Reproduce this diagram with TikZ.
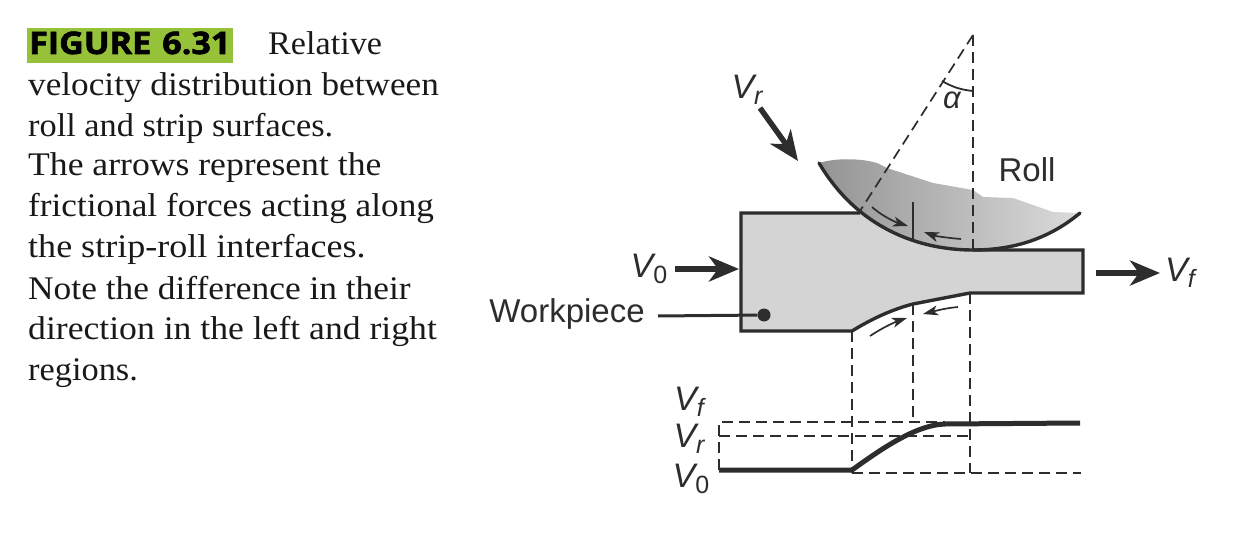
\documentclass[tikz,border=0pt]{standalone}
\usepackage{fontspec}
\usepackage{graphicx}
\usetikzlibrary{arrows.meta}
\setmainfont{Liberation Serif}[FakeStretch=1.067]
\newfontfamily\labelfont{Liberation Sans}
\newfontfamily\headfont{Open Sans}[FakeBold=2,FakeStretch=1.1]
\definecolor{headgreen}{RGB}{150,194,58}
\definecolor{inkdark}{RGB}{45,45,45}
\definecolor{workgray}{RGB}{212,212,212}
\newcommand{\Vsub}[1]{{\labelfont\fontsize{34}{34}\selectfont\itshape V\raisebox{-6pt}{\fontsize{25}{25}\selectfont #1}}}
\newcommand{\Vzero}{{\labelfont\fontsize{34}{34}\selectfont{\itshape V}\raisebox{-6pt}{\fontsize{25}{25}\selectfont\upshape 0}}}
\tikzset{
  capline/.style={anchor=base west,inner sep=0pt,font=\fontsize{33}{33}\selectfont,text=black!90},
  lab/.style={inner sep=0pt,font=\labelfont\fontsize{33}{33}\selectfont,text=inkdark},
  vlab/.style={inner sep=0pt,text=inkdark},
  outline/.style={draw=inkdark,line width=3.4pt,line join=miter},
  guide/.style={draw=inkdark,line width=1.7pt,dash pattern=on 11pt off 6pt},
  bigarrow/.style={draw=inkdark,line width=5.5pt,-{Stealth[length=30pt,width=25pt,inset=9pt]}},
  smallarrow/.style={draw=inkdark,line width=1.7pt,-{Stealth[length=15pt,width=10pt,inset=4pt]}},
  vcurve/.style={draw=inkdark,line width=5pt}
}
\begin{document}
\begin{tikzpicture}[x=1pt,y=-1pt]
\useasboundingbox (0,0) rectangle (1252,545);
% caption
\node[fill=headgreen,minimum width=206pt,minimum height=35pt,inner sep=0pt,anchor=north west] (headbox) at (27,28) {};
\node[anchor=base west,inner sep=0pt,font=\headfont\bfseries\fontsize{31}{31}\selectfont] (head) at (29,54) {FIGURE\hspace{11pt}6.31};
\node[capline] (c0) at (268,55) {\scalebox{.97}[1]{Relative}};
\node[capline] (c1) at (28,96) {velocity distribution between};
\node[capline] (c2) at (28,137) {\scalebox{.975}[1]{roll and strip surfaces.}};
\node[capline] (c3) at (28,176) {\scalebox{1.012}[1]{The arrows represent the}};
\node[capline] (c4) at (28,217) {frictional forces acting along};
\node[capline] (c5) at (28,258) {\scalebox{1.024}[1]{the strip-roll interfaces.}};
\node[capline] (c6) at (28,299) {\scalebox{1.005}[1]{Note the difference in their}};
\node[capline] (c7) at (28,339) {\scalebox{1.012}[1]{direction in the left and right}};
\node[capline] (c8) at (28,380) {\scalebox{.975}[1]{regions.}};
% roll
\shade[left color=black!42,right color=black!14]
  (819,163) .. controls (835,158) and (860,158) .. (877,163)
  -- (887,168) -- (933,183) -- (973,190) -- (983,197) -- (1013,198) -- (1053,212) -- (1080,213)
  .. controls (1050,238) and (1015,250) .. (973,250)
  .. controls (920,250) and (858,229) .. (819,163) -- cycle;
% workpiece
\fill[workgray] (741,213) -- (859.5,213) -- (859.5,210.9) .. controls (894.4,239.7) and (935.9,250) .. (973,250)
  -- (1083,250) -- (1083,293) -- (970,293) -- (913,304)
  .. controls (890,310) and (870,320) .. (852,331) -- (741,331) -- cycle;
\draw[outline] (860,213) -- (741,213) -- (741,331) -- (852,331)
  .. controls (870,320) and (890,310) .. (913,304) -- (970,293) -- (1083,293) -- (1083,250) -- (973,250);
\draw[outline,line cap=round] (819,163) .. controls (858,229) and (920,250) .. (973,250)
  .. controls (1015,250) and (1050,238) .. (1080,213);
% guides
\coordinate (apex) at (973,35);
\coordinate (contactA) at (860,211);
\coordinate (contactB) at (973,250);
\coordinate (lowA) at (852,331);
\coordinate (lowB) at (913,304);
\coordinate (lowC) at (970,293);
\coordinate (graphA) at (852,473);
\coordinate (graphC) at (970,473);
\coordinate (graphEnd) at (1081,473);
\coordinate (neutralTop) at (913,202);
\coordinate (neutralMid) at (913,241);
\coordinate (neutralBot) at (913,422);
\coordinate (fL) at (719,422);
\coordinate (rL) at (719,436);
\coordinate (zL) at (719,470);
\coordinate (fR) at (945,422);
\coordinate (rR) at (970,436);
\draw[guide] (apex) -- (contactB);
\draw[guide] (apex) -- (contactA);
\draw[guide,dash pattern=on 40pt off 0pt] (neutralTop) -- (neutralMid);
\draw[guide] (lowA) -- (graphA);
\draw[guide] (lowB) -- (neutralBot);
\draw[guide] (lowC) -- (graphC);
\draw[guide] (graphA) -- (graphEnd);
\draw[guide] (zL) -- (fL) -- (fR);
\draw[guide] (rL) -- (rR);
% angle
\coordinate (angA) at (942,81);
\coordinate (angB) at (973,91);
\draw[draw=inkdark,line width=1.8pt] (angA) .. controls (952,87) and (962,90) .. (angB);
\node[inner sep=0pt,text=inkdark,font=\labelfont\itshape\fontsize{31}{31}\selectfont] (alpha) at (952,100) {α};
% velocity curve
\coordinate (zR) at (852,470);
\draw[vcurve] (zL) -- (zR) .. controls (880,450) and (915,425) .. (945,424) -- (1080,423);
% friction arrows
\coordinate (a1s) at (872,207); \coordinate (a1e) at (908,226);
\coordinate (a2s) at (961,239); \coordinate (a2e) at (924,232);
\coordinate (a3s) at (870,336); \coordinate (a3e) at (907,318);
\coordinate (a4s) at (958,307); \coordinate (a4e) at (923,314);
\draw[smallarrow] (a1s) .. controls (882,216) and (895,222) .. (a1e);
\draw[smallarrow] (a2s) .. controls (948,238) and (935,236) .. (a2e);
\draw[smallarrow] (a3s) .. controls (882,328) and (895,322) .. (a3e);
\draw[smallarrow] (a4s) .. controls (946,308) and (935,311) .. (a4e);
% labels and large arrows
\node[vlab] (vr) at (747,90) {\Vsub{r}};
\node[vlab] (v0) at (649,269) {\Vzero};
\node[vlab] (vf) at (1180,273) {\Vsub{f}};
\node[lab] (roll) at (1027,170) {Roll};
\node[lab] (work) at (567,314) {Workpiece};
\node[vlab] (gf) at (689,402) {\Vsub{f}};
\node[vlab] (gr) at (689,439) {\Vsub{r}};
\node[vlab] (g0) at (691,479) {\Vzero};
\coordinate (vrS) at (760,108); \coordinate (vrE) at (798,161);
\coordinate (v0S) at (675,269); \coordinate (v0E) at (739,269);
\coordinate (vfS) at (1096,273); \coordinate (vfE) at (1160,273);
\draw[bigarrow] (vrS) -- (vrE);
\draw[bigarrow] (v0S) -- (v0E);
\draw[bigarrow] (vfS) -- (vfE);
\coordinate (wpS) at (658,316);
\node[circle,fill=inkdark,minimum size=13pt,inner sep=0pt] (dot) at (764,315) {};
\draw[draw=inkdark,line width=3pt] (wpS) -- (dot);
\end{tikzpicture}
\end{document}
